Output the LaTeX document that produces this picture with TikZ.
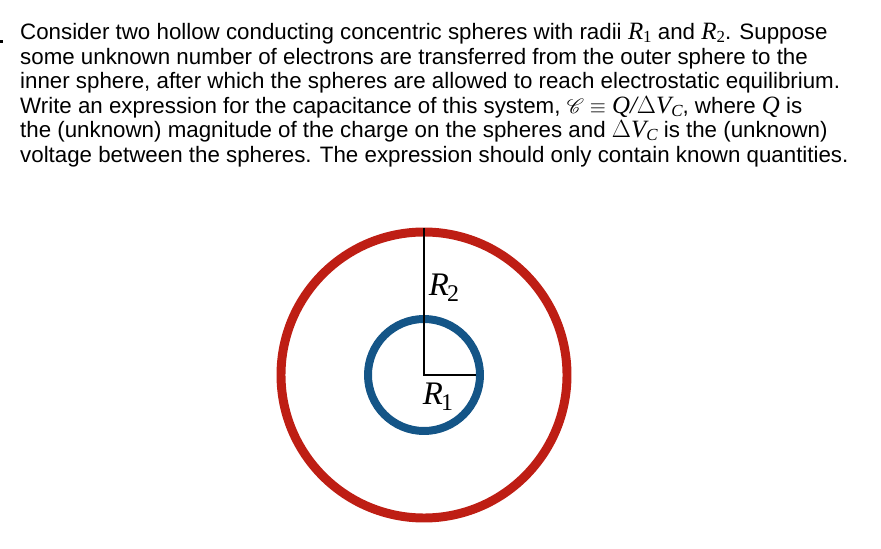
\documentclass[tikz,border=0pt]{standalone}
\usepackage{fontspec}
\usepackage{mathrsfs}
\setmainfont{Liberation Sans}
\newfontfamily\tms{Liberation Serif}
\newcommand{\mv}[1]{{\tms\itshape\fontsize{25}{24.6}\selectfont #1}}
\newcommand{\sbs}[1]{{\tms\fontsize{17}{17}\selectfont\raisebox{-3pt}{#1}}}
\definecolor{outerred}{RGB}{190,30,20}
\definecolor{innerblue}{RGB}{20,85,135}
\begin{document}
\begin{tikzpicture}[x=1bp,y=-1bp,
  lbl/.style={font=\fontsize{33}{33}\selectfont\tms\itshape, inner sep=0}]
\useasboundingbox (0,0) rectangle (881,549);
\fill (0,40) rectangle (3,43);
\node[anchor=north west, align=left, inner sep=0, font=\fontsize{22.4}{24.6}\selectfont] (txt) at (20,23) {%
Consider two hollow conducting concentric spheres with radii \mv{R}\sbs{1} and \mv{R}\sbs{2}. Suppose\\
some unknown number of electrons are transferred from the outer sphere to the\\
inner sphere, after which the spheres are allowed to reach electrostatic equilibrium.\\
Write an expression for the capacitance of this system, $\mathscr{C}\equiv$ \mv{Q/}{\fontsize{25}{24}\selectfont$\Delta$}\mv{V}\sbs{\itshape C}, where \mv{Q} is\\
the (unknown) magnitude of the charge on the spheres and {\fontsize{25}{24}\selectfont$\Delta$}\mv{V}\sbs{\itshape C} is the (unknown)\\
voltage between the spheres. The expression should only contain known quantities.};
\coordinate (c) at (424,375);
\draw[outerred, line width=9] (c) circle (143);
\draw[innerblue, line width=8] (c) circle (56);
\coordinate (top) at (424,228);
\coordinate (rt) at (476,375);
\draw[line width=2] (top) -- (c) -- (rt);
\node[lbl] (r2) at (444,288) {R\kern-2pt{\tms\upshape\fontsize{24}{24}\selectfont\raisebox{-6pt}{2}}};
\node[lbl] (r1) at (438,397) {R\kern-2pt{\tms\upshape\fontsize{24}{24}\selectfont\raisebox{-6pt}{1}}};
\end{tikzpicture}
\end{document}
